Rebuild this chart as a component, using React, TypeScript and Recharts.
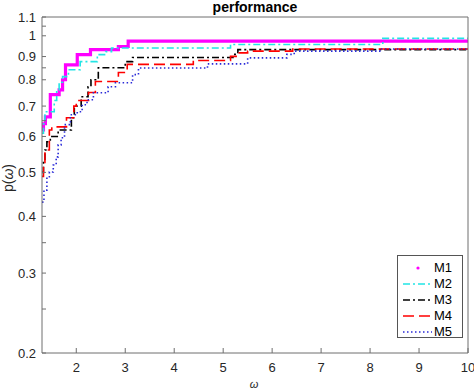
import React from 'react';
import { LineChart, Line, XAxis, YAxis } from 'recharts';

// performance profile step data: [omega, p(omega)]
const M1: number[][] = [
  [1.3, 0.62], [1.33, 0.64], [1.37, 0.663], [1.47, 0.742], [1.65, 0.76], [1.72, 0.8],
  [1.78, 0.863], [2.02, 0.909], [2.29, 0.932], [2.86, 0.947], [3.06, 0.973], [10, 0.973],
];
const M2: number[][] = [
  [1.3, 0.61], [1.33, 0.64], [1.36, 0.68], [1.55, 0.72], [1.6, 0.76], [1.65, 0.79],
  [1.72, 0.813], [1.84, 0.842], [2.08, 0.877], [2.43, 0.909], [2.6, 0.923], [2.72, 0.94],
  [5.15, 0.957], [8.26, 0.987], [10, 0.987],
];
const M3: number[][] = [
  [1.3, 0.5], [1.33, 0.53], [1.36, 0.56], [1.4, 0.584], [1.47, 0.6], [1.63, 0.62],
  [1.9, 0.66], [1.96, 0.7], [2.1, 0.734], [2.24, 0.772], [2.3, 0.8], [2.45, 0.85],
  [3.0, 0.877], [3.15, 0.896], [5.2, 0.91], [5.3, 0.932], [10, 0.935],
];
const M4: number[][] = [
  [1.3, 0.49], [1.33, 0.52], [1.36, 0.56], [1.45, 0.62], [1.5, 0.63], [1.8, 0.66],
  [1.95, 0.7], [2.0, 0.72], [2.25, 0.75], [2.39, 0.793], [2.86, 0.83], [3.04, 0.865],
  [4.39, 0.882], [5.15, 0.901], [5.3, 0.917], [5.5, 0.925], [6.42, 0.935], [10, 0.935],
];
const M5: number[][] = [
  [1.3, 0.43], [1.34, 0.457], [1.4, 0.489], [1.45, 0.501], [1.53, 0.519], [1.59, 0.541],
  [1.63, 0.575], [1.69, 0.596], [1.76, 0.637], [1.88, 0.67], [2.02, 0.68], [2.12, 0.705],
  [2.22, 0.723], [2.35, 0.749], [2.65, 0.772], [2.8, 0.788], [3.15, 0.821], [3.27, 0.849],
  [4.68, 0.867], [5.5, 0.894], [6.3, 0.91], [6.45, 0.925], [8.22, 0.935], [10, 0.935],
];

const xTicks = [2, 3, 4, 5, 6, 7, 8, 9, 10];
const yMajorTicks = [0.2, 0.3, 0.4, 0.5, 0.6, 0.7, 0.8, 0.9, 1, 1.1];
const yMinorTicks = [0.25, 0.35, 0.65, 0.85, 1.05];
const yTicks = [...yMajorTicks, ...yMinorTicks].sort((a, b) => a - b);

const toPts = (arr: number[][]) => arr.map(([x, y]) => ({ x, y }));

const series = [
  { name: 'M1', data: toPts(M1), color: '#ff00ff', dash: undefined as string | undefined, width: 3.2 },
  { name: 'M2', data: toPts(M2), color: '#22e5e5', dash: '7 3 2 3', width: 1.6 },
  { name: 'M3', data: toPts(M3), color: '#000000', dash: '7 3 2 3', width: 1.6 },
  { name: 'M4', data: toPts(M4), color: '#ff0000', dash: '11 5', width: 1.6 },
  { name: 'M5', data: toPts(M5), color: '#2a2ad8', dash: '1.5 2.5', width: 1.6 },
];

const FONT = '"Liberation Sans", Arial, Helvetica, sans-serif';
const AXIS = '#6e6e6e';
const TXT = '#262626';

const fmtY = (v: number) => (yMajorTicks.some((m) => Math.abs(m - v) < 1e-9) ? String(v) : '');

export default function App() {
  return (
    <div style={{ position: 'absolute', left: 0, top: 0, width: 474, height: 392, background: '#fff', fontFamily: FONT }}>
      <LineChart width={474} height={392} margin={{ top: 17, right: 6, bottom: 0, left: 0 }}>
        <XAxis
          xAxisId="b"
          type="number"
          dataKey="x"
          domain={[1.3, 10]}
          allowDataOverflow
          ticks={xTicks}
          interval={0}
          height={39}
          stroke={AXIS}
          tickSize={-5}
          tickMargin={15}
          tick={{ fill: TXT, fontSize: 13, fontFamily: FONT }}
        />
        <XAxis
          xAxisId="t"
          orientation="top"
          type="number"
          dataKey="x"
          domain={[1.3, 10]}
          allowDataOverflow
          ticks={xTicks}
          interval={0}
          mirror
          height={1}
          stroke={AXIS}
          tickSize={5}
          tick={false}
        />
        <YAxis
          yAxisId="l"
          type="number"
          scale="log"
          domain={[0.2, 1.1]}
          allowDataOverflow
          ticks={yTicks}
          interval={0}
          width={42}
          stroke={AXIS}
          tickSize={-4}
          tickMargin={10}
          tickFormatter={fmtY}
          tick={{ fill: TXT, fontSize: 13, fontFamily: FONT }}
        />
        <YAxis
          yAxisId="r"
          orientation="right"
          type="number"
          scale="log"
          domain={[0.2, 1.1]}
          allowDataOverflow
          ticks={yTicks}
          interval={0}
          mirror
          width={1}
          stroke={AXIS}
          tickSize={4}
          tick={false}
        />
        {series.map((s) => (
          <Line
            key={s.name}
            xAxisId="b"
            yAxisId="l"
            data={s.data}
            dataKey="y"
            type="stepAfter"
            stroke={s.color}
            strokeWidth={s.width}
            strokeDasharray={s.dash}
            dot={false}
            activeDot={false}
            isAnimationActive={false}
          />
        ))}
      </LineChart>

      <div style={{ position: 'absolute', left: 0, width: 510, top: -1, textAlign: 'center', fontWeight: 'bold', fontSize: 14, color: '#000' }}>
        performance
      </div>

      <div
        style={{
          position: 'absolute',
          left: 8,
          top: 178,
          transform: 'translate(-50%, -50%) rotate(-90deg)',
          fontSize: 14,
          color: TXT,
          whiteSpace: 'nowrap',
        }}
      >
        p(<i>ω</i>)
      </div>

      <div style={{ position: 'absolute', left: 254, top: 384, transform: 'translate(-50%, -50%)', fontSize: 11, lineHeight: '12px', fontStyle: 'italic', color: TXT }}>
        ω
      </div>

      <div
        style={{
          position: 'absolute',
          left: 397,
          top: 255,
          width: 66,
          height: 83,
          background: '#fff',
          border: '1px solid #555',
          boxSizing: 'border-box',
        }}
      >
        {series.map((s, i) => (
          <div key={s.name} style={{ position: 'absolute', left: 0, top: 4 + i * 16, height: 16, width: 66 }}>
            <svg width={34} height={16} style={{ position: 'absolute', left: 3, top: 0 }}>
              {s.name === 'M1' ? (
                <circle cx={17} cy={8} r={1.6} fill={s.color} />
              ) : (
                <line x1={2} y1={8} x2={31} y2={8} stroke={s.color} strokeWidth={1.6} strokeDasharray={s.dash} />
              )}
            </svg>
            <span style={{ position: 'absolute', left: 36, top: 0, lineHeight: '16px', fontSize: 13, color: '#000' }}>{s.name}</span>
          </div>
        ))}
      </div>
    </div>
  );
}
